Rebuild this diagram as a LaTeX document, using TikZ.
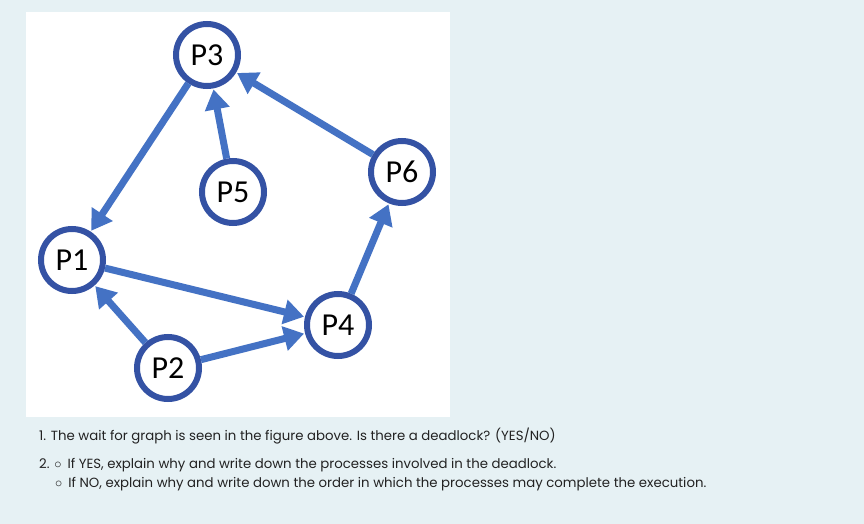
\documentclass[tikz,border=0pt]{standalone}
\usepackage{fontspec}
\setmainfont{Poppins}
\newfontfamily\nodefont{Carlito}
\usetikzlibrary{arrows.meta}
\definecolor{bgc}{HTML}{E6F1F4}
\definecolor{ringc}{HTML}{3452A4}
\definecolor{arrc}{HTML}{4472C4}
\definecolor{txt}{HTML}{222222}
\tikzset{
  proc/.style={circle,draw=ringc,line width=6pt,fill=white,minimum size=62pt,inner sep=0pt,font=\nodefont\fontsize{32}{32}\selectfont},
  edge/.style={draw=arrc,line width=7pt,-{Triangle[length=20pt,width=24pt]},shorten >=1pt},
  qtext/.style={anchor=west,text=txt,font=\fontsize{13.3}{15}\selectfont,inner sep=0pt}
}
\begin{document}
\begin{tikzpicture}[x=1pt,y=-1pt]
\useasboundingbox (0,0) rectangle (864,524);
\fill[bgc] (0,0) rectangle (864,524);
\fill[white] (26,12) rectangle (450,417);
\node[proc] (P3) at (207,55) {P3};
\node[proc] (P5) at (233,192) {P5};
\node[proc] (P6) at (402,172) {P6};
\node[proc] (P1) at (72,260) {P1};
\node[proc] (P4) at (338,325) {P4};
\node[proc] (P2) at (168,368) {P2};
\draw[edge] (P3) -- (P1);
\draw[edge] (P5) -- (P3);
\draw[edge] (P6) -- (P3);
\draw[edge] (P1) -- (P4);
\draw[edge] (P2) -- (P1);
\draw[edge] (P2) -- (P4);
\draw[edge] (P4) -- (P6);
\node[qtext] (q1) at (39,436) {1. The wait for graph is seen in the figure above. Is there a deadlock? (YES/NO)};
\node[qtext] (q2) at (39,465) {2. $\circ$\hspace{6pt}If YES, explain why and write down the processes involved in the deadlock.};
\node[qtext] (q3) at (55,484) {$\circ$\hspace{6pt}If NO, explain why and write down the order in which the processes may complete the execution.};
\end{tikzpicture}
\end{document}
